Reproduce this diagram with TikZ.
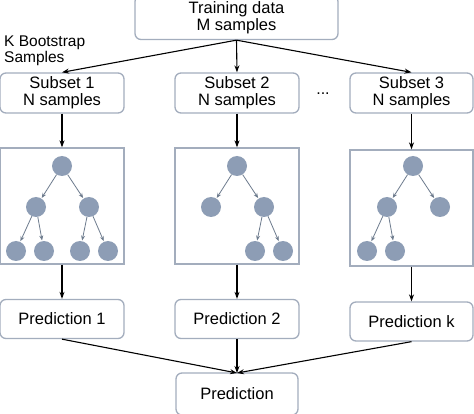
\documentclass[tikz,border=0pt]{standalone}
\usepackage{fontspec}
\setmainfont{Liberation Sans}
\usetikzlibrary{arrows.meta}
\definecolor{boxc}{HTML}{A3ADBD}
\definecolor{nodec}{HTML}{8D9DB5}
\definecolor{edgec}{HTML}{6E7C8E}
\begin{document}
\begin{tikzpicture}[x=1pt,y=-1pt,
  rbox/.style={draw=boxc, line width=1.3pt, rounded corners=6pt, fill=white, inner sep=0pt, align=center, font=\fontsize{16.5}{17}\selectfont},
  tbox/.style={draw=boxc, line width=1.3pt, fill=white, inner sep=0pt},
  tn/.style={circle, fill=nodec, minimum size=20pt, inner sep=0pt},
  conn/.style={-{Stealth[length=7pt,width=5pt]}, line width=1.1pt, black},
  te/.style={-{Stealth[length=5pt,width=4pt]}, line width=0.8pt, edgec, shorten >=0.5pt}]
\useasboundingbox (0,0) rectangle (474,414);
% top
\node[rbox, minimum width=203pt, minimum height=44pt] (train) at (236.5,17.5) {Training data\\M samples};
\node[anchor=north west, align=left, inner sep=0pt, font=\fontsize{15.5}{16}\selectfont] (kb) at (4,36) {K Bootstrap\\Samples};
% subsets
\node[rbox, minimum width=124pt, minimum height=40pt] (s1) at (62,93) {Subset 1\\N samples};
\node[rbox, minimum width=124pt, minimum height=40pt] (s2) at (237,93) {Subset 2\\N samples};
\node[rbox, minimum width=123pt, minimum height=40pt] (s3) at (411.5,93) {Subset 3\\N samples};
\node[font=\fontsize{16}{18}\selectfont, inner sep=0pt] (dots) at (323,94) {...};
% tree boxes
\node[tbox, minimum width=124pt, minimum height=116pt] (b1) at (62,206) {};
\node[tbox, minimum width=124pt, minimum height=116pt] (b2) at (237,206) {};
\node[tbox, minimum width=123pt, minimum height=116pt] (b3) at (411.5,208) {};
% tree 1
\node[tn] (a0) at (62,166) {};
\node[tn] (a1) at (36,207) {};
\node[tn] (a2) at (89,207) {};
\node[tn] (a3) at (16,251) {};
\node[tn] (a4) at (44,251) {};
\node[tn] (a5) at (80,251) {};
\node[tn] (a6) at (108,251) {};
\draw[te] (a0) -- (a1); \draw[te] (a0) -- (a2);
\draw[te] (a1) -- (a3); \draw[te] (a1) -- (a4);
\draw[te] (a2) -- (a5); \draw[te] (a2) -- (a6);
% tree 2
\node[tn] (c0) at (237,166) {};
\node[tn] (c1) at (211,207) {};
\node[tn] (c2) at (264,207) {};
\node[tn] (c3) at (255,251) {};
\node[tn] (c4) at (283,251) {};
\draw[te] (c0) -- (c1); \draw[te] (c0) -- (c2);
\draw[te] (c2) -- (c3); \draw[te] (c2) -- (c4);
% tree 3
\node[tn] (d0) at (413,166) {};
\node[tn] (d1) at (387,207) {};
\node[tn] (d2) at (440,207) {};
\node[tn] (d3) at (367,251) {};
\node[tn] (d4) at (395,251) {};
\draw[te] (d0) -- (d1); \draw[te] (d0) -- (d2);
\draw[te] (d1) -- (d3); \draw[te] (d1) -- (d4);
% predictions
\node[rbox, minimum width=124pt, minimum height=39pt] (p1) at (62,319) {Prediction 1};
\node[rbox, minimum width=124pt, minimum height=39pt] (p2) at (237,319) {Prediction 2};
\node[rbox, minimum width=123pt, minimum height=39pt] (p3) at (411.5,321.5) {Prediction k};
\node[rbox, minimum width=122pt, minimum height=42pt] (pf) at (237,394) {Prediction};
\coordinate (pft) at (237,373);
% connectors
\draw[conn] (train.south) -- (s1.north);
\draw[conn] (train.south) -- (s2.north);
\draw[conn] (train.south) -- (s3.north);
\draw[conn] (s1.south) -- (b1.north);
\draw[conn] (s2.south) -- (b2.north);
\draw[conn] (s3.south) -- (b3.north);
\draw[conn] (b1.south) -- (p1.north);
\draw[conn] (b2.south) -- (p2.north);
\draw[conn] (b3.south) -- (p3.north);
\draw[conn] (p1.south) -- (pft);
\draw[conn] (p2.south) -- (pft);
\draw[conn] (p3.south) -- (pft);
\end{tikzpicture}
\end{document}
